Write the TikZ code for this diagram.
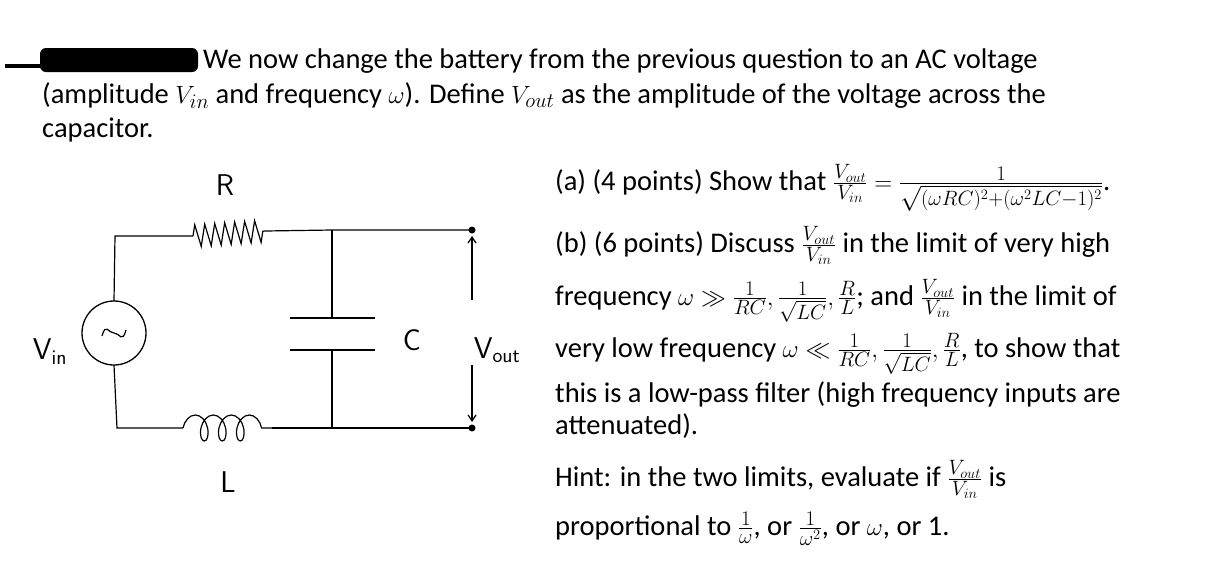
\documentclass[tikz,border=0pt]{standalone}
\usepackage{fontspec}
\usepackage{amsmath,amssymb}
\setmainfont{Carlito}
\usetikzlibrary{decorations.pathmorphing,arrows.meta}
\begin{document}
\begin{tikzpicture}[x=1pt,y=-1pt,
  txt/.style={anchor=base west,inner sep=0pt,font=\fontsize{28.5}{32}\selectfont},
  hand/.style={font=\fontsize{30}{34}\selectfont\sffamily},
  wire/.style={line width=1.2pt}]
\useasboundingbox (0,0) rectangle (1218,576);
% redaction scribble
\fill[black,rounded corners=6pt] (40,48) rectangle (198,72);
\draw[line width=4pt] (5,66) -- (45,66);
\node[txt] (l1) at (203,68) {We now change the battery from the previous question to an AC voltage};
\node[txt] (l2) at (42,103) {(amplitude $V_{in}$ and frequency $\omega$). Define $V_{out}$ as the amplitude of the voltage across the};
\node[txt] (l3) at (42,137) {capacitor.};
% circuit: AC source ring as four curves
\coordinate (srcN) at (114,301);
\coordinate (srcE) at (146,333);
\coordinate (srcS) at (114,365);
\coordinate (srcW) at (82,333);
\draw[line width=1.3pt,draw=black] (srcE) .. controls (146,315.3) and (131.7,301) .. (srcN)
  .. controls (96.3,301) and (82,315.3) .. (srcW)
  .. controls (82,350.7) and (96.3,365) .. (srcS)
  .. controls (131.7,365) and (146,350.7) .. (srcE);
\coordinate (src) at (114,333);
\coordinate (tl) at (115,236);
\coordinate (bl) at (117,428);
\draw[wire] (src) ++(-12,3) .. controls +(4,-14) and +(-6,0) .. ++(12,-3) .. controls +(6,0) and +(-4,14) .. ++(12,-3);
\coordinate (r1) at (193,236);
\coordinate (r2) at (265,231);
\draw[wire] (srcN) -- (tl) -- (r1);
\draw[wire,decoration={zigzag,segment length=10pt,amplitude=11pt},decorate] (r1) -- (r2);
\coordinate (ctop) at (332,230);
\coordinate (out1) at (472,230);
\draw[wire] (r2) -- (ctop) -- (out1);
\fill (out1) circle [radius=3.5pt];
\draw[wire] (ctop) -- (332,318);
\draw[wire] (290,318) -- (375,318);
\draw[wire] (290,350) -- (375,350);
\coordinate (cbot) at (332,428);
\draw[wire] (332,350) -- (cbot);
\coordinate (i1) at (183,428);
\coordinate (i2) at (272,428);
\draw[wire] (srcS) -- (bl) -- (i1);
\draw[wire,decoration={coil,aspect=0.6,segment length=18pt,amplitude=13pt},decorate] (i1) -- (i2);
\coordinate (out2) at (472,428);
\draw[wire] (i2) -- (cbot) -- (out2);
\fill (out2) circle [radius=3.5pt];
\draw[wire,-{Straight Barb[length=6pt,width=8pt]}] (472,300) -- (472,236);
\draw[wire,-{Straight Barb[length=6pt,width=8pt]}] (472,365) -- (472,422);
\node[hand] (R) at (225,185) {R};
\node[hand] (L) at (228,482) {L};
\node[hand] (C) at (412,340) {C};
\node[hand] (Vo) at (497,350) {V$_{\text{out}}$};
\node[hand] (Vi) at (50,352) {V$_{\text{in}}$};
% right text
\node[txt] (a) at (555,190) {(a) (4 points) Show that $\frac{V_{out}}{V_{in}}=\frac{1}{\sqrt{(\omega RC)^2+(\omega^2LC-1)^2}}$.};
\node[txt] (b) at (555,252) {(b) (6 points) Discuss $\frac{V_{out}}{V_{in}}$ in the limit of very high};
\node[txt] (c) at (555,305) {frequency $\omega\gg\frac{1}{RC},\frac{1}{\sqrt{LC}},\frac{R}{L}$; and $\frac{V_{out}}{V_{in}}$ in the limit of};
\node[txt] (d) at (555,357) {very low frequency $\omega\ll\frac{1}{RC},\frac{1}{\sqrt{LC}},\frac{R}{L}$, to show that};
\node[txt] (e) at (555,402) {this is a low-pass filter (high frequency inputs are};
\node[txt] (f) at (555,434) {attenuated).};
\node[txt] (g) at (555,486) {Hint: in the two limits, evaluate if $\frac{V_{out}}{V_{in}}$ is};
\node[txt] (h) at (555,535) {proportional to $\frac{1}{\omega}$, or $\frac{1}{\omega^2}$, or $\omega$, or 1.};
\end{tikzpicture}
\end{document}
